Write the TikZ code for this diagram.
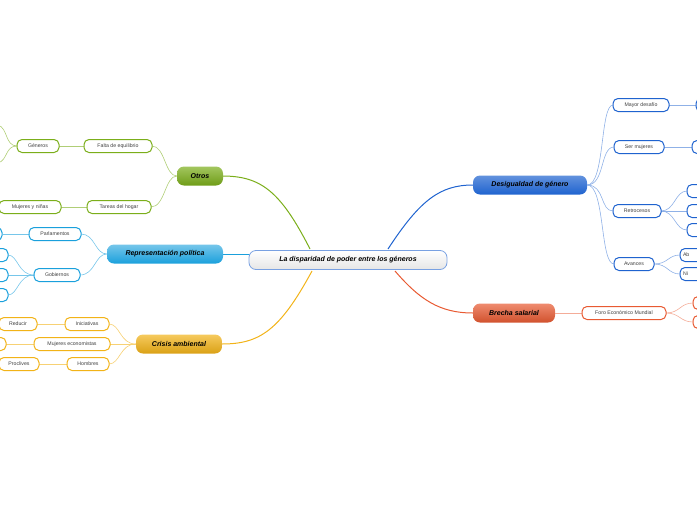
\documentclass[tikz,border=0pt]{standalone}
\usepackage{fontspec}
\setmainfont{Liberation Sans}
\begin{document}
\begin{tikzpicture}[x=1pt,y=-1pt,
 main/.style={rounded corners=7pt,minimum height=19pt,inner sep=1pt,font=\fontsize{7}{8}\selectfont\bfseries\itshape,text=black},
 leaf/.style={rounded corners=5pt,minimum height=13pt,inner sep=1pt,draw,line width=1pt,fill=white,font=\fontsize{5.2}{6}\selectfont,text=black!75},
 conn/.style={line width=0.6pt}]
\useasboundingbox (0,0) rectangle (697,520);
\definecolor{cg}{HTML}{7BAE1A}\definecolor{cc}{HTML}{1AA0DC}\definecolor{co}{HTML}{F2B318}
\definecolor{cb}{HTML}{1F63CF}\definecolor{cr}{HTML}{E85A32}
% connectors central
\coordinate (c1) at (310,249);\coordinate (c2) at (390,249);\coordinate (c3) at (290,271);\coordinate (c4) at (395,271);
\node[coordinate] (cm) at (348,260) {};
\draw[cg,line width=1pt] (310,249) .. controls (280,190) and (260,176) .. (222,176);
\draw[cc,line width=1pt] (250,254) -- (222,254);
\draw[co,line width=1pt] (312,271) .. controls (280,330) and (260,344) .. (222,344);
\draw[cb,line width=1pt] (388,249) .. controls (420,200) and (440,185) .. (473,185);
\draw[cr,line width=1pt] (395,271) .. controls (420,300) and (440,313) .. (473,313);
% main nodes
\node[main,draw=cb!60,line width=0.8pt,top color=white,bottom color=black!10,minimum width=198pt] (c) at (348,260) {La disparidad de poder entre los géneros};
\node[main,top color=cg!70,bottom color=cg!90!black,minimum width=46pt] (ot) at (200,176) {Otros};
\node[main,top color=cc!60,bottom color=cc,minimum width=116pt] (rp) at (165,254) {Representación política};
\node[main,top color=co!70,bottom color=co!90!black,minimum width=86pt] (ca) at (179,344) {Crisis ambiental};
\node[main,top color=cb!70,bottom color=cb,minimum width=114pt] (dg) at (530,185) {Desigualdad de género};
\node[main,top color=cr!70,bottom color=cr!90!black,minimum width=82pt] (bs) at (514,313) {Brecha salarial};
% Otros branch
\begin{scope}[cg!60]
\draw[conn] (ot.west) .. controls (165,176) and (165,146) .. (152,146);
\draw[conn] (ot.west) .. controls (165,176) and (165,207) .. (151,207);
\draw[conn] (84,146) -- (59,146);
\draw[conn] (87,207) -- (61,207);
\draw[conn] (17,146) .. controls (5,146) and (8,128) .. (-2,125);
\draw[conn] (17,146) .. controls (5,146) and (8,160) .. (-2,163);
\end{scope}
\node[leaf,draw=cg,minimum width=68pt] (fe) at (118,146) {Falta de equilibrio};
\node[leaf,draw=cg,minimum width=64pt] (th) at (119,207) {Tareas del hogar};
\node[leaf,draw=cg,minimum width=42pt] (ge) at (38,146) {Géneros};
\node[leaf,draw=cg,minimum width=62pt] (mn) at (30,207) {Mujeres y niñas};
% Representación branch
\begin{scope}[cc!60]
\draw[conn] (rp.west) .. controls (95,254) and (95,234) .. (81,234);
\draw[conn] (rp.west) .. controls (95,254) and (95,275) .. (80,275);
\draw[conn] (29,234) -- (3,234);
\draw[conn] (34,275) .. controls (18,275) and (18,255) .. (8,255);
\draw[conn] (34,275) -- (8,275);
\draw[conn] (34,275) .. controls (18,275) and (18,295) .. (8,295);
\end{scope}
\node[leaf,draw=cc,minimum width=52pt] (pa) at (55,234) {Parlamentos};
\node[leaf,draw=cc,minimum width=46pt] (go) at (57,275) {Gobiernos};
\node[leaf,draw=cc,minimum width=20pt] (p1) at (-8,234) {};
\node[leaf,draw=cc,minimum width=24pt] (g1) at (-4,255) {};
\node[leaf,draw=cc,minimum width=24pt] (g2) at (-4,275) {};
\node[leaf,draw=cc,minimum width=24pt] (g3) at (-4,295) {};
% Crisis branch
\begin{scope}[co!60]
\draw[conn] (ca.west) .. controls (120,344) and (120,324) .. (109,324);
\draw[conn] (ca.west) -- (110,344);
\draw[conn] (ca.west) .. controls (120,344) and (120,364) .. (109,364);
\draw[conn] (65,324) -- (37,324);
\draw[conn] (34,344) -- (6,344);
\draw[conn] (67,364) -- (39,364);
\end{scope}
\node[leaf,draw=co,minimum width=44pt] (in) at (87,324) {Iniciativas};
\node[leaf,draw=co,minimum width=76pt] (me) at (72,344) {Mujeres economistas};
\node[leaf,draw=co,minimum width=42pt] (ho) at (88,364) {Hombres};
\node[leaf,draw=co,minimum width=38pt] (re) at (18,324) {Reducir};
\node[leaf,draw=co,minimum width=24pt] (m1) at (-6,344) {};
\node[leaf,draw=co,minimum width=40pt] (pr) at (19,364) {Proclives};
% Desigualdad branch
\begin{scope}[cb!50]
\foreach \y/\x in {105/613,147/614,211/613,264/614}
 \draw[conn] (dg.east) .. controls (605,185) and (600,\y) .. (\x,\y);
\draw[conn] (669,105) -- (696,105);
\draw[conn] (664,147) -- (692,147);
\draw[conn] (661,211) .. controls (675,211) and (675,191) .. (687,191);
\draw[conn] (661,211) -- (687,211);
\draw[conn] (661,211) .. controls (675,211) and (675,230) .. (687,230);
\draw[conn] (654,264) .. controls (668,264) and (668,255) .. (680,255);
\draw[conn] (654,264) .. controls (668,264) and (668,274) .. (680,274);
\end{scope}
\node[leaf,draw=cb,minimum width=56pt] (md) at (641,105) {Mayor desafío};
\node[leaf,draw=cb,minimum width=50pt] (sm) at (639,147) {Ser mujeres};
\node[leaf,draw=cb,minimum width=48pt] (rt) at (637,211) {Retrocesos};
\node[leaf,draw=cb,minimum width=40pt] (av) at (634,264) {Avances};
\node[leaf,draw=cb,minimum width=30pt] (d1) at (711,105) {};
\node[leaf,draw=cb,minimum width=30pt] (d2) at (707,147) {};
\node[leaf,draw=cb,minimum width=30pt] (r1) at (702,191) {};
\node[leaf,draw=cb,minimum width=30pt] (r2) at (702,211) {};
\node[leaf,draw=cb,minimum width=30pt] (r3) at (702,230) {};
\node[leaf,draw=cb,minimum width=40pt,text width=34pt,align=left] (a1) at (700,255) {Ab};
\node[leaf,draw=cb,minimum width=40pt,text width=34pt,align=left] (a2) at (700,274) {Ni};
% Brecha branch
\begin{scope}[cr!50]
\draw[conn] (bs.east) -- (582,313);
\draw[conn] (666,313) .. controls (680,313) and (680,303) .. (693,303);
\draw[conn] (666,313) .. controls (680,313) and (680,322) .. (693,322);
\end{scope}
\node[leaf,draw=cr,minimum width=84pt] (fo) at (624,313) {Foro Económico Mundial};
\node[leaf,draw=cr,minimum width=30pt] (b1) at (708,303) {};
\node[leaf,draw=cr,minimum width=30pt] (b2) at (708,322) {};
\end{tikzpicture}
\end{document}
